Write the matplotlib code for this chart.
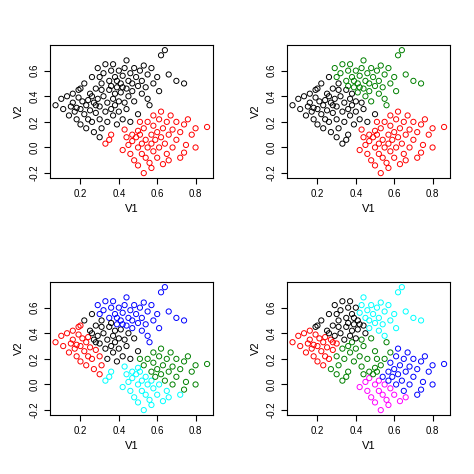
import matplotlib
matplotlib.use("Agg")
import matplotlib.pyplot as plt
import numpy as np

# puntos estimados de la imagen (V1, V2)
pts = [(0.07,0.33),(0.1,0.38),(0.11,0.3),(0.13,0.4),(0.14,0.25),(0.15,0.32),(0.16,0.35),(0.17,0.28),
(0.18,0.31),(0.18,0.22),(0.19,0.45),(0.2,0.3),(0.2,0.18),(0.21,0.36),(0.22,0.26),(0.22,0.5),(0.23,0.33),
(0.23,0.15),(0.24,0.22),(0.25,0.42),(0.25,0.29),(0.26,0.55),(0.26,0.2),(0.27,0.35),(0.27,0.12),(0.28,0.27),
(0.28,0.46),(0.29,0.62),(0.29,0.38),(0.3,0.22),(0.3,0.32),(0.31,0.5),(0.31,0.15),(0.32,0.4),(0.32,0.58),
(0.33,0.28),(0.33,0.65),(0.34,0.35),(0.34,0.2),(0.35,0.45),(0.35,0.52),(0.36,0.3),(0.36,0.6),(0.37,0.38),
(0.37,0.25),(0.38,0.42),(0.38,0.33),(0.38,0.55),(0.39,0.47),(0.39,0.18),(0.4,0.36),(0.4,0.6),(0.4,0.28),
(0.41,0.5),(0.41,0.43),(0.42,0.22),(0.42,0.56),(0.43,0.35),(0.43,0.62),(0.44,0.46),(0.44,0.3),(0.45,0.52),
(0.45,0.4),(0.46,0.58),(0.46,0.2),(0.47,0.44),(0.47,0.5),(0.48,0.36),(0.48,0.62),(0.49,0.55),(0.5,0.48),
(0.5,0.26),(0.51,0.6),(0.52,0.42),(0.52,0.52),(0.53,0.64),(0.54,0.47),(0.55,0.38),(0.55,0.57),(0.56,0.33),
(0.57,0.62),(0.58,0.5),(0.6,0.55),(0.61,0.44),(0.62,0.72),(0.64,0.76),(0.66,0.57),(0.7,0.52),(0.74,0.5),
(0.3,0.08),(0.36,0.1),(0.33,0.03),(0.35,0.06),(0.24,0.37),(0.19,0.39),(0.16,0.42),(0.31,0.45),(0.28,0.33),
(0.26,0.4),(0.36,0.48),(0.39,0.52),(0.42,0.47),(0.37,0.65),(0.44,0.68),(0.3,0.55),(0.2,0.46),(0.43,0.14),
(0.47,0.1),(0.5,0.13),
(0.45,0.02),(0.46,-0.05),(0.47,0.05),(0.48,-0.1),(0.49,0.08),(0.5,0.0),(0.5,-0.14),(0.51,0.1),(0.52,-0.05),
(0.52,0.03),(0.53,0.15),(0.54,-0.08),(0.54,0.06),(0.55,0.0),(0.55,0.2),(0.56,-0.12),(0.57,0.1),(0.57,0.03),
(0.58,-0.03),(0.58,0.17),(0.59,0.06),(0.6,-0.08),(0.6,0.12),(0.61,0.0),(0.61,0.22),(0.62,0.08),(0.63,-0.13),
(0.63,0.15),(0.64,0.03),(0.65,0.2),(0.65,-0.05),(0.66,0.1),(0.67,0.25),(0.68,0.0),(0.68,0.14),(0.7,0.06),
(0.7,0.2),(0.72,-0.08),(0.72,0.12),(0.74,0.18),(0.75,0.02),(0.76,0.22),(0.78,0.1),(0.8,0.0),(0.8,0.15),
(0.86,0.16),(0.53,-0.2),(0.44,0.08),(0.42,-0.02),(0.58,0.25),(0.51,0.2),(0.66,-0.1),(0.74,-0.04),(0.62,0.28),
(0.57,-0.16)]
V1 = np.array([p[0] for p in pts])
V2 = np.array([p[1] for p in pts])

# centros estimados de cada agrupamiento y sus colores
centros = [
    ([(0.38, 0.38), (0.62, 0.05)], ['black', 'red']),
    ([(0.28, 0.3), (0.52, 0.52), (0.62, 0.05)], ['black', 'green', 'red']),
    ([(0.18, 0.28), (0.35, 0.35), (0.5, 0.52), (0.68, 0.12), (0.52, -0.04)],
     ['red', 'black', 'blue', 'green', 'cyan']),
    ([(0.18, 0.28), (0.33, 0.5), (0.52, 0.55), (0.42, 0.2), (0.68, 0.1), (0.5, -0.1)],
     ['red', 'black', 'cyan', 'green', 'blue', 'magenta']),
]

fig = plt.figure(figsize=(4.74, 4.74), dpi=100)
plt.rcParams['font.family'] = ['Liberation Sans', 'DejaVu Sans']
posiciones = [(0.105, 0.624), (0.605, 0.624), (0.105, 0.124), (0.605, 0.124)]

for (cs, cols), (l, b) in zip(centros, posiciones):
    ax = fig.add_axes([l, b, 0.344, 0.281])
    c = np.array(cs)
    d = (V1[:, None] - c[:, 0])**2 + (V2[:, None] - c[:, 1])**2
    lab = d.argmin(axis=1)
    colores = [cols[i] for i in lab]
    ax.scatter(V1, V2, facecolors='none', edgecolors=colores, s=14, linewidths=0.7)
    ax.set_xlim(0.04, 0.89)
    ax.set_ylim(-0.24, 0.8)
    ax.set_xticks([0.2, 0.4, 0.6, 0.8])
    ax.set_yticks([-0.2, 0.0, 0.2, 0.4, 0.6])
    ax.set_yticklabels(['-0.2', '0.0', '0.2', '0.4', '0.6'], rotation=90, va='center')
    ax.tick_params(labelsize=7, direction='out', length=4)
    ax.set_xlabel('V1', fontsize=8)
    ax.set_ylabel('V2', fontsize=8)

fig.savefig('out.png', dpi=100)
